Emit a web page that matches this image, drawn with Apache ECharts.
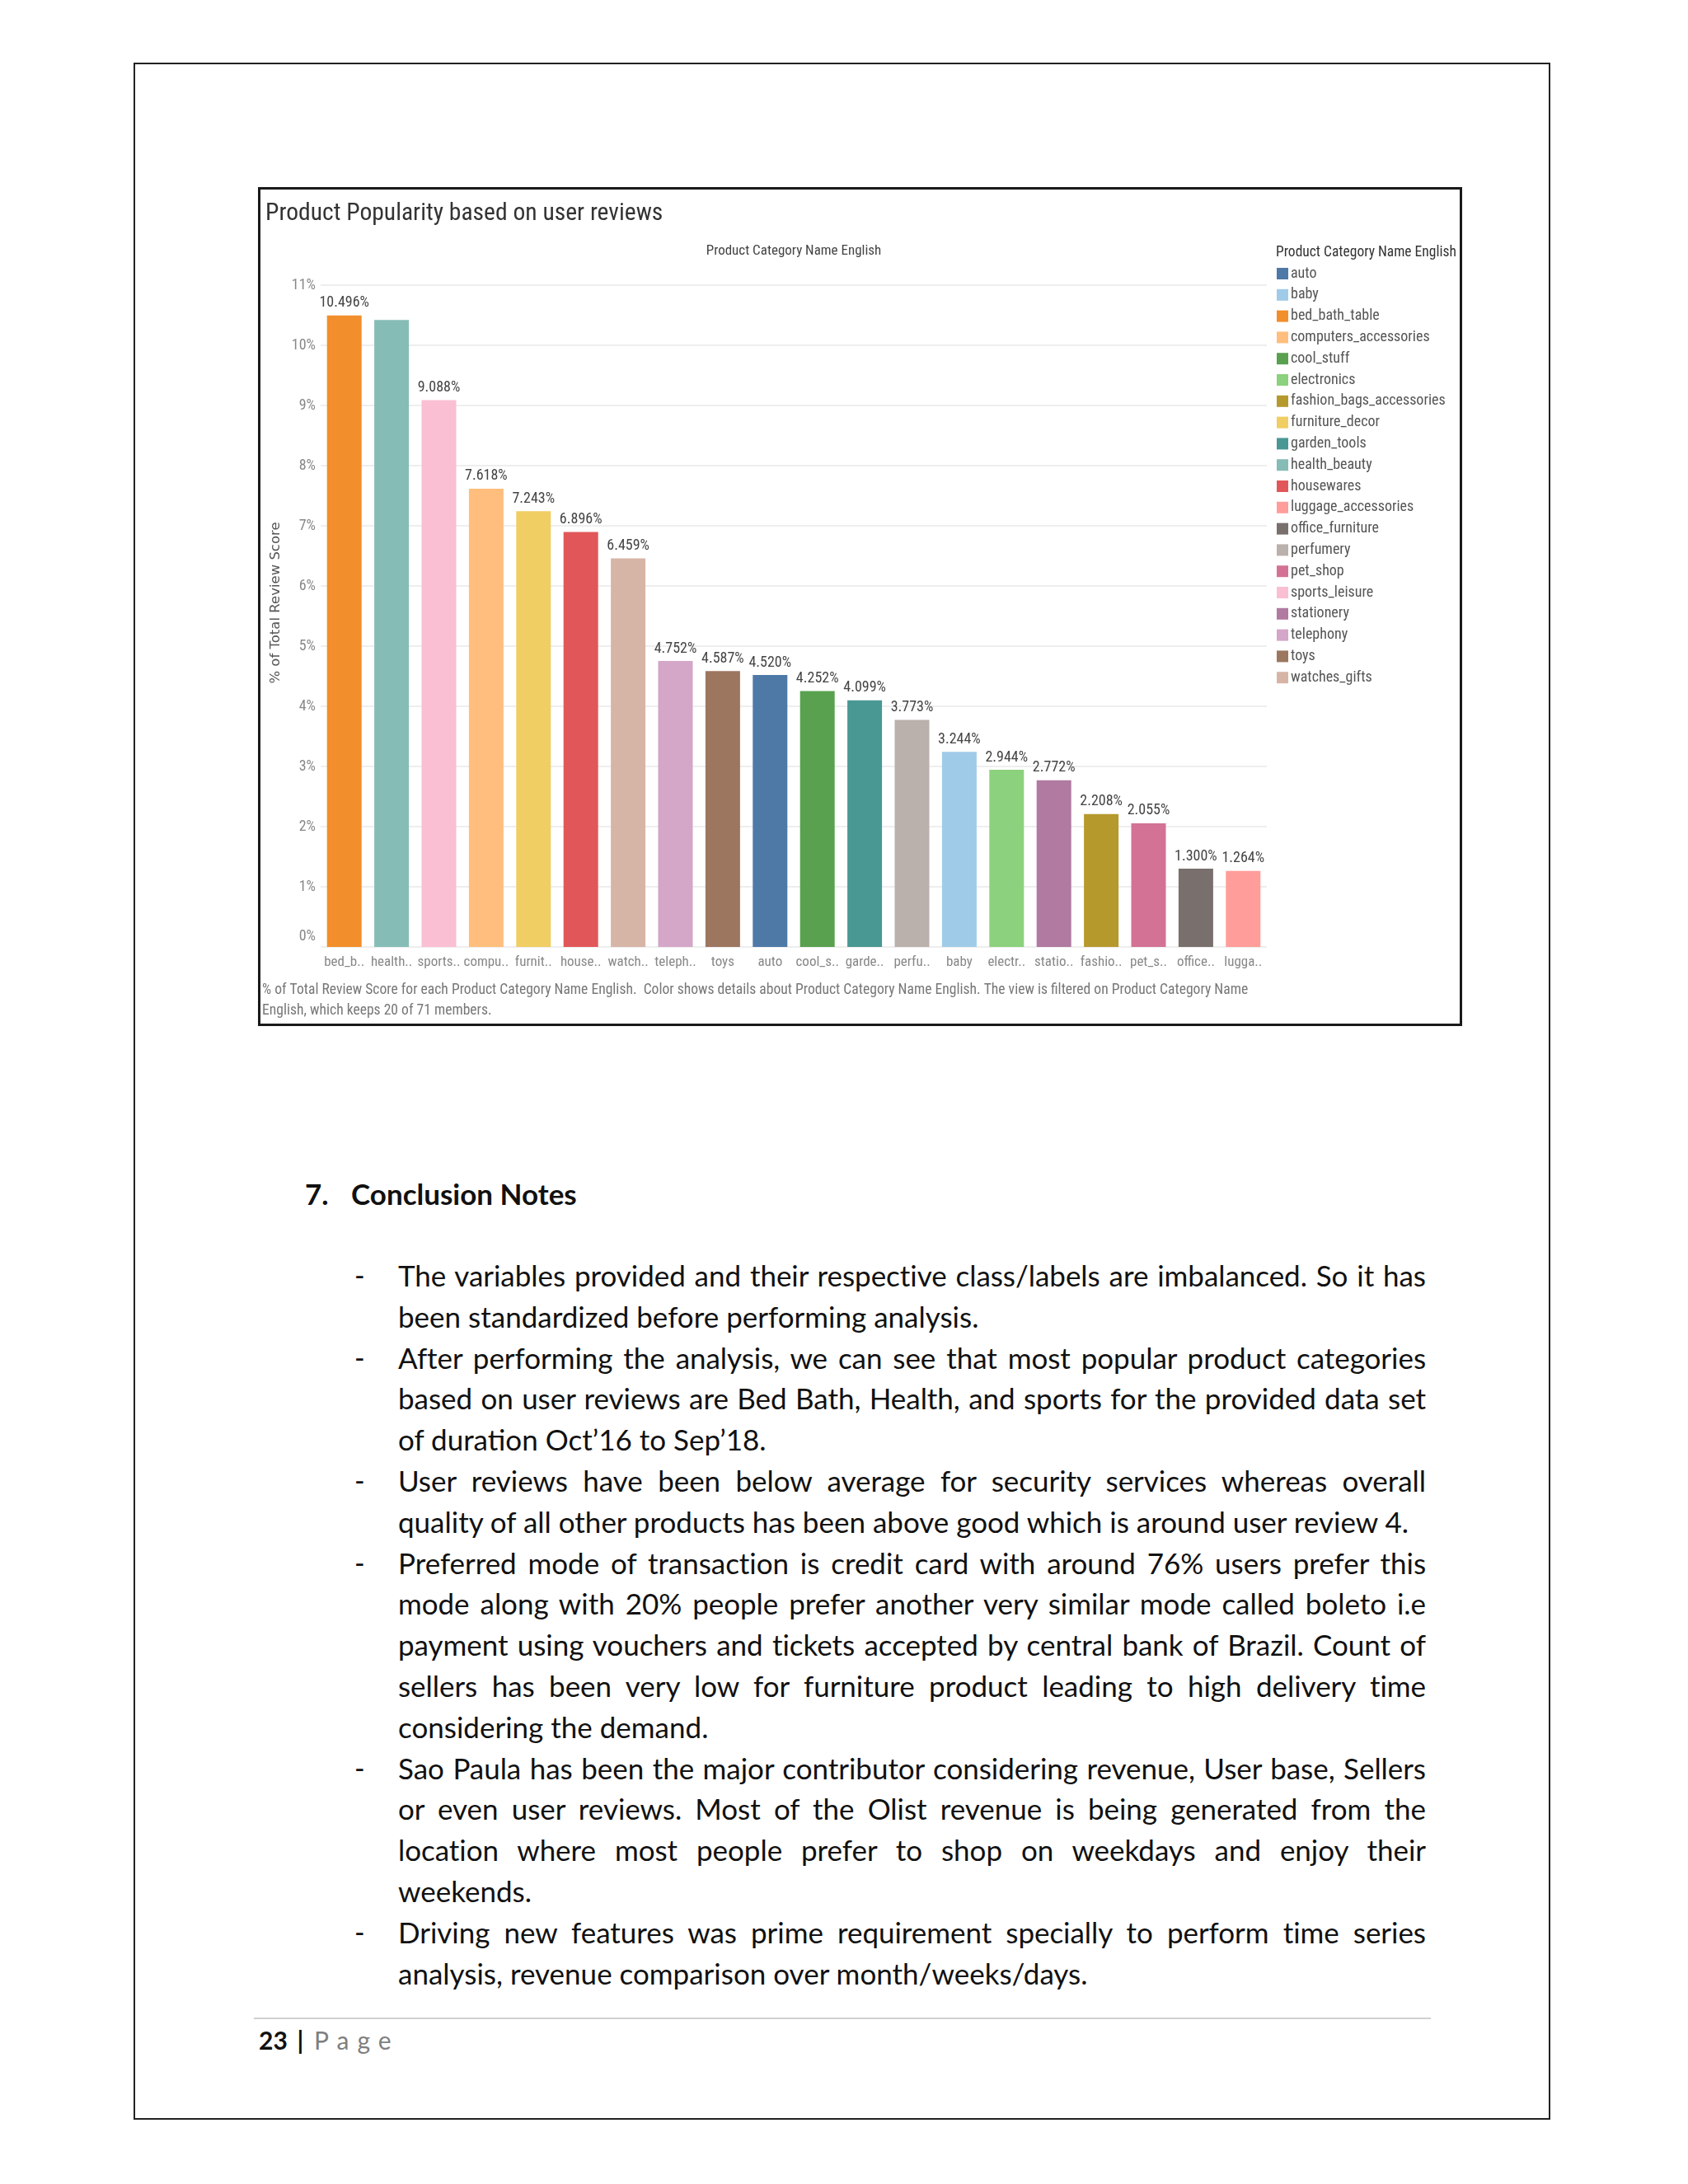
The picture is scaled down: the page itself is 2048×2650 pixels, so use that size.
<!DOCTYPE html>
<html>
<head>
<meta charset="utf-8">
<script src="https://cdn.jsdelivr.net/npm/echarts@6/dist/echarts.min.js"></script>
<style>
  html, body { margin: 0; padding: 0; background: #fff; }
  body { width: 2048px; height: 2650px; position: relative; overflow: hidden; }
  #pageBorder { position: absolute; left: 162px; top: 76px; width: 1719px; height: 2496px; border: 2px solid #222; box-sizing: border-box; }
  #chartBorder { position: absolute; left: 313px; top: 227px; width: 1461px; height: 1018px; border: 3px solid #1a1a1a; box-sizing: border-box; pointer-events: none; z-index: 2; }
  #chart { position: absolute; left: 316px; top: 230px; width: 1455px; height: 1012px; z-index: 1; }
  .txt { position: absolute; font-family: Lato, 'Open Sans', sans-serif; color: #111; }
  .heading { font-weight: bold; font-size: 35px; line-height: 50px; }
  .line { left: 483px; width: 1247px; height: 50px; line-height: 50px; font-size: 35px; white-space: nowrap; text-align: left; }
  .line.just { text-align: justify; text-align-last: justify; }
  .dash { left: 430px; font-size: 34px; line-height: 50px; }
  #footLine { position: absolute; left: 308px; top: 2448px; width: 1428px; height: 2px; background: #d0d0d0; }
  .foot { font-size: 30px; line-height: 40px; }
</style>
</head>
<body>
<div id="pageBorder"></div>
<div id="chartBorder"></div>
<div id="chart"></div>
<div id="doc"></div>
<div id="footLine"></div>
<div class="txt foot" style="left:314px; top:2455px;"><b>23</b> <b style="margin-left:4px;">|</b> <span style="color:#7f7f7f; letter-spacing:10px; margin-left:5px;">Page</span></div>
<script>
// ---- data ----
const categories = ['bed_bath_table','health_beauty','sports_leisure','computers_accessories','furniture_decor','housewares','watches_gifts','telephony','toys','auto','cool_stuff','garden_tools','perfumery','baby','electronics','stationery','fashion_bags_accessories','pet_shop','office_furniture','luggage_accessories'];
const tickLabels = ['bed_b..','health..','sports..','compu..','furnit..','house..','watch..','teleph..','toys','auto','cool_s..','garde..','perfu..','baby','electr..','statio..','fashio..','pet_s..','office..','lugga..'];
const reviewPct = [10.496, 10.42, 9.088, 7.618, 7.243, 6.896, 6.459, 4.752, 4.587, 4.520, 4.252, 4.099, 3.773, 3.244, 2.944, 2.772, 2.208, 2.055, 1.300, 1.264];
const labelShown = [true, false, true, true, true, true, true, true, true, true, true, true, true, true, true, true, true, true, true, true];
const legendOrder = ['auto','baby','bed_bath_table','computers_accessories','cool_stuff','electronics','fashion_bags_accessories','furniture_decor','garden_tools','health_beauty','housewares','luggage_accessories','office_furniture','perfumery','pet_shop','sports_leisure','stationery','telephony','toys','watches_gifts'];
const yTicks = [0,1,2,3,4,5,6,7,8,9,10,11];

// ---- styles ----
const colorMap = {
  auto:'#4E79A7', baby:'#A0CBE8', bed_bath_table:'#F28E2B', computers_accessories:'#FFBE7D',
  cool_stuff:'#59A14F', electronics:'#8CD17D', fashion_bags_accessories:'#B6992D', furniture_decor:'#F1CE63',
  garden_tools:'#499894', health_beauty:'#86BCB6', housewares:'#E15759', luggage_accessories:'#FF9D9A',
  office_furniture:'#79706E', perfumery:'#BAB0AC', pet_shop:'#D37295', sports_leisure:'#FABFD2',
  stationery:'#B07AA1', telephony:'#D4A6C8', toys:'#9D7660', watches_gifts:'#D7B5A6'
};
const F = "'Liberation Sans Narrow','Arial Narrow','Roboto Condensed',Roboto,sans-serif";

const series = categories.map((name, i) => ({
  name: name,
  type: 'bar',
  stack: 'all',
  barWidth: 42,
  itemStyle: { color: colorMap[name] },
  label: {
    show: labelShown[i], position: 'top', distance: 6,
    fontFamily: F, fontSize: 18, color: '#444',
    formatter: p => p.value.toFixed(3) + '%'
  },
  data: categories.map((c, j) => j === i ? reviewPct[i] : '-')
}));

const chart = echarts.init(document.getElementById('chart'), null, { renderer: 'canvas' });
chart.setOption({
  animation: false,
  title: {
    text: 'Product Popularity based on user reviews',
    left: 6, top: 15, padding: 0,
    textStyle: { fontFamily: F, fontSize: 29.6, fontWeight: 'normal', color: '#333' }
  },
  legend: {
    data: legendOrder,
    orient: 'vertical', left: 1233, top: 93, padding: 0,
    itemWidth: 14, itemHeight: 14, itemGap: 7.8, icon: 'rect',
    selectedMode: false,
    textStyle: { fontFamily: F, fontSize: 18, lineHeight: 18, color: '#555', padding: [0,0,0,-2] }
  },
  graphic: [
    { type: 'text', left: 1232, top: 68, style: { text: 'Product Category Name English', font: "17.5px " + F, fill: '#333' } },
    { type: 'text', left: 2, top: 963, style: { text: '% of Total Review Score for each Product Category Name English.  Color shows details about Product Category Name English. The view is filtered on Product Category Name', font: "17.6px " + F, fill: '#777' } },
    { type: 'text', left: 2, top: 988, style: { text: 'English, which keeps 20 of 71 members.', font: "17.6px " + F, fill: '#777' } }
  ],
  grid: { left: 73, top: 116, width: 1148, height: 803, containLabel: false },
  xAxis: [
    {
      type: 'category', data: tickLabels, position: 'bottom',
      axisLine: { show: false }, axisTick: { show: false },
      axisLabel: { interval: 0, margin: 10, fontFamily: F, fontSize: 17, color: '#888' }
    },
    {
      type: 'category', data: tickLabels, position: 'top',
      axisLine: { show: false }, axisTick: { show: false }, axisLabel: { show: false },
      name: 'Product Category Name English', nameLocation: 'middle', nameGap: 33,
      nameTextStyle: { fontFamily: F, fontSize: 17, color: '#444' }
    }
  ],
  yAxis: {
    type: 'value', min: yTicks[0], max: yTicks[yTicks.length - 1], interval: 1,
    axisLine: { show: false }, axisTick: { show: false },
    axisLabel: {
      margin: 6, fontFamily: F, fontSize: 18, color: '#888',
      formatter: v => v === 0 ? '{z|0%}' : v + '%',
      rich: { z: { fontFamily: F, fontSize: 18, color: '#888', padding: [0, 0, 26, 0] } }
    },
    splitLine: { lineStyle: { color: '#eeeeee', width: 2 } },
    name: '% of Total Review Score', nameLocation: 'middle', nameGap: 44,
    nameTextStyle: { fontFamily: "'DejaVu Sans',Verdana,sans-serif", fontSize: 16.5, color: '#555', padding: [0, 0, 0, 32] }
  },
  series: series
});

// ---- document text ----
const heading = { num: '7.', text: 'Conclusion Notes' };
const bodyLines = [
  { t: 'The variables provided and their respective class/labels are imbalanced. So it has', dash: true, just: true },
  { t: 'been standardized before performing analysis.', dash: false, just: false },
  { t: 'After performing the analysis, we can see that most popular product categories', dash: true, just: true },
  { t: 'based on user reviews are Bed Bath, Health, and sports for the provided data set', dash: false, just: true },
  { t: 'of duration Oct\u201916 to Sep\u201918.', dash: false, just: false },
  { t: 'User reviews have been below average for security services whereas overall', dash: true, just: true },
  { t: 'quality of all other products has been above good which is around user review 4.', dash: false, just: false },
  { t: 'Preferred mode of transaction is credit card with around 76% users prefer this', dash: true, just: true },
  { t: 'mode along with 20% people prefer another very similar mode called boleto i.e', dash: false, just: true },
  { t: 'payment using vouchers and tickets accepted by central bank of Brazil. Count of', dash: false, just: true },
  { t: 'sellers has been very low for furniture product leading to high delivery time', dash: false, just: true },
  { t: 'considering the demand.', dash: false, just: false },
  { t: 'Sao Paula has been the major contributor considering revenue, User base, Sellers', dash: true, just: true },
  { t: 'or even user reviews. Most of the Olist revenue is being generated from the', dash: false, just: true },
  { t: 'location where most people prefer to shop on weekdays and enjoy their', dash: false, just: true },
  { t: 'weekends.', dash: false, just: false },
  { t: 'Driving new features was prime requirement specially to perform time series', dash: true, just: true },
  { t: 'analysis, revenue comparison over month/weeks/days.', dash: false, just: false }
];
const doc = document.getElementById('doc');
function add(cls, left, top, html) {
  const d = document.createElement('div');
  d.className = 'txt ' + cls;
  if (left !== null) d.style.left = left + 'px';
  d.style.top = top + 'px';
  d.innerHTML = html;
  doc.appendChild(d);
  return d;
}
add('heading', 370, 1423, heading.num);
add('heading', 426, 1423, heading.text);
const firstCenter = 1547, pitch = 49.8;
bodyLines.forEach((ln, i) => {
  const top = firstCenter + i * pitch - 25;
  if (ln.dash) add('dash', 430, top, '-');
  const d = add('line' + (ln.just ? ' just' : ''), null, top, '');
  const span = document.createElement('span');
  span.textContent = ln.t;
  d.appendChild(span);
  const w = span.getBoundingClientRect().width;
  if (w > 1244) {
    d.style.letterSpacing = ((1244 - w) / ln.t.length) + 'px';
  }
});
</script>
</body>
</html>
